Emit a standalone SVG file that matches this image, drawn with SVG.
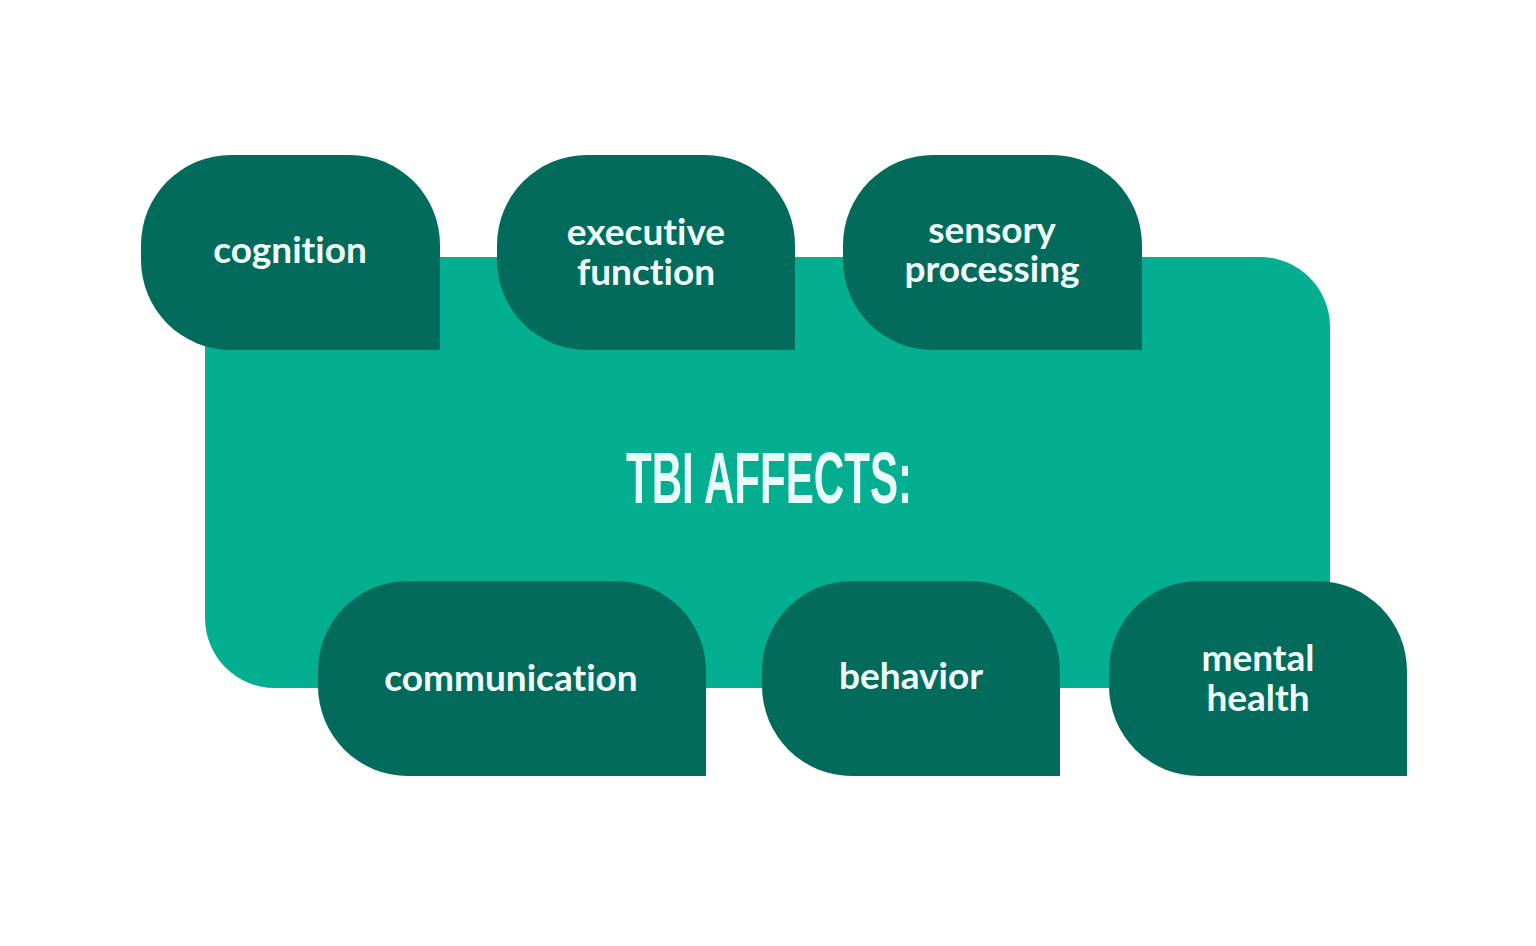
<svg xmlns="http://www.w3.org/2000/svg" width="1536" height="946" viewBox="0 0 1536 946">
<style>
.box{fill:#036B5C}
.lbl{font-family:Lato,"Open Sans",sans-serif;font-weight:700;font-size:37px;fill:#F0FCFA;text-anchor:middle;font-variant-ligatures:none;font-feature-settings:"liga" 0}
.title{font-family:"Liberation Sans",Arial,sans-serif;font-weight:700;font-size:72px;fill:#E8FBF8;text-anchor:middle}
</style>
<rect width="1536" height="946" fill="#FFFFFF"/>
<g id="main">
<rect x="205" y="257" width="1125" height="431" rx="70" ry="70" fill="#04AE91"/>
<text class="title" transform="translate(769,503) scale(0.585,1)">TBI AFFECTS:</text>
</g>
<g id="cognition">
<path class="box" d="M231,155 H350 A90,90 0 0 1 440,245 V350 H231 A90,90 0 0 1 141,260 V245 A90,90 0 0 1 231,155 Z"/>
<text class="lbl" x="290" y="263">cognition</text>
</g>
<g id="executive">
<path class="box" d="M587,155 H705 A90,90 0 0 1 795,245 V350 H587 A90,90 0 0 1 497,260 V245 A90,90 0 0 1 587,155 Z"/>
<text class="lbl" x="646" y="245">executive</text>
<text class="lbl" x="646" y="285">function</text>
</g>
<g id="sensory">
<path class="box" d="M933,155 H1052 A90,90 0 0 1 1142,245 V350 H933 A90,90 0 0 1 843,260 V245 A90,90 0 0 1 933,155 Z"/>
<text class="lbl" x="992" y="243">sensory</text>
<text class="lbl" x="992" y="282">processing</text>
</g>
<g id="communication">
<path class="box" d="M408,581 H616 A90,90 0 0 1 706,671 V776 H408 A90,90 0 0 1 318,686 V671 A90,90 0 0 1 408,581 Z"/>
<text class="lbl" x="511" y="691">communication</text>
</g>
<g id="behavior">
<path class="box" d="M852,581 H970 A90,90 0 0 1 1060,671 V776 H852 A90,90 0 0 1 762,686 V671 A90,90 0 0 1 852,581 Z"/>
<text class="lbl" x="911" y="689">behavior</text>
</g>
<g id="mental">
<path class="box" d="M1199,581 H1317 A90,90 0 0 1 1407,671 V776 H1199 A90,90 0 0 1 1109,686 V671 A90,90 0 0 1 1199,581 Z"/>
<text class="lbl" x="1258" y="671">mental</text>
<text class="lbl" x="1258" y="711">health</text>
</g>
<g id="connectors"/>
</svg>
